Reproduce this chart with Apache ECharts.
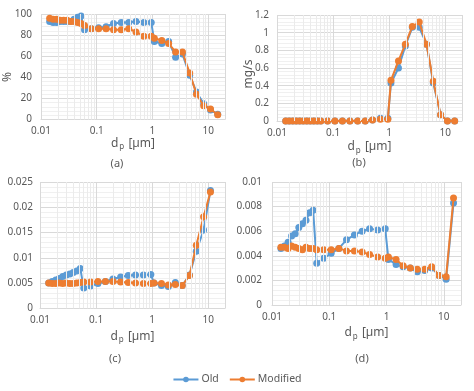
<!DOCTYPE html>
<html>
<head>
<meta charset="utf-8">
<script src="https://cdn.jsdelivr.net/npm/echarts@6/dist/echarts.min.js"></script>
<style>html,body{margin:0;padding:0;background:#fff}#c{width:474px;height:391px}</style>
</head>
<body>
<div id="c"></div>
<script>
// particle diameters (µm)
const dp = [0.0143, 0.0165, 0.0191, 0.022, 0.0254, 0.0294, 0.034, 0.0392, 0.0453, 0.0523, 0.0604,
  0.08, 0.108, 0.147, 0.2, 0.275, 0.375, 0.506, 0.7, 0.95,
  1.08, 1.47, 1.95, 2.6, 3.45, 4.65, 6.15, 8.3, 11, 14.8];

// (a) %
const aOld = [93, 92, 92, 93, 93, 93, 93, 95, 97, 98, 85, 86, 87, 88, 91, 92, 92, 93, 92, 92, 74, 72, 74, 59, 62, 42, 26, 15, 9, 5];
const aMod = [96, 95, 95, 94, 94, 94, 93, 93, 92, 91, 89, 86, 86, 86, 85, 85, 86, 83, 79, 79, 77, 75, 72, 64, 64, 44, 24, 13, 10, 4.5];
// (b) mg/s
const bOld = [0, 0, 0, 0, 0, 0, 0, 0, 0, 0, 0, 0, 0, 0, 0, 0, 0, 0.01, 0.03, 0.03, 0.43, 0.6, 0.85, 1.06, 1.06, 0.87, 0.43, 0.07, 0, 0];
const bMod = [0, 0, 0, 0, 0, 0, 0, 0, 0, 0, 0, 0, 0, 0, 0, 0, 0, 0.01, 0.02, 0.02, 0.46, 0.68, 0.87, 1.07, 1.12, 0.87, 0.45, 0.07, 0, 0];
// (c)
const cOld = [0.0050, 0.0053, 0.0056, 0.0059, 0.0063, 0.0066, 0.0068, 0.0071, 0.0074, 0.0079, 0.0040, 0.0044, 0.0049, 0.0053, 0.0058, 0.0062, 0.0065, 0.0066, 0.0066, 0.0067, 0.0050, 0.0045, 0.0043, 0.0051, 0.0045, 0.0066, 0.0113, 0.0155, 0.0233, null];
const cMod = [0.0050, 0.0049, 0.0049, 0.0050, 0.0049, 0.0050, 0.0049, 0.0049, 0.0050, 0.0051, 0.0052, 0.0052, 0.0053, 0.0053, 0.0053, 0.0052, 0.0051, 0.0050, 0.0049, 0.0049, 0.0050, 0.0049, 0.0046, 0.0047, 0.0045, 0.0065, 0.0125, 0.0181, 0.0230, null];
// (d)
const dOld = [0.0046, 0.0048, 0.0051, 0.0056, 0.0058, 0.0063, 0.0066, 0.0069, 0.0075, 0.0077, 0.0034, 0.0038, 0.0042, 0.0046, 0.0053, 0.0057, 0.0060, 0.0062, 0.0061, 0.0062, 0.0037, 0.0033, 0.0031, 0.0030, 0.0027, 0.0028, 0.0030, 0.0024, 0.0021, 0.0083];
const dMod = [0.0047, 0.0047, 0.0046, 0.0048, 0.0047, 0.0046, 0.0045, 0.0047, 0.0046, 0.0046, 0.0045, 0.0045, 0.0045, 0.0046, 0.0044, 0.0044, 0.0043, 0.0041, 0.0039, 0.0038, 0.0039, 0.0037, 0.0032, 0.0030, 0.0029, 0.0029, 0.0031, 0.0024, 0.0023, 0.0087];

const yMax = [100, 1.2, 0.025, 0.01];
const yStep = [20, 0.2, 0.005, 0.002];
const panelLabels = ['(a)', '(b)', '(c)', '(d)'];

const BLUE = '#5B9BD5', ORANGE = '#ED7D31', TXT = '#595959';
const FONT = 'Noto Sans';

const minorX = [];
[0.01, 0.1, 1, 10].forEach(d => { for (let k = 2; k <= 9; k++) { const v = +(k * d).toPrecision(3); if (v < 20) minorX.push(v); } });

const grids = [
  {left: 41, top: 14, width: 184, height: 105.5},
  {left: 277, top: 15, width: 185, height: 106},
  {left: 40, top: 182, width: 185, height: 126.3},
  {left: 272, top: 182, width: 189, height: 123}
];
const nameGaps = [15, 18, 20, 20];
const labelMargins = [9, 8, 7, 10];

const xAxes = grids.map((g, i) => ({
  type: 'log', logBase: 10, gridIndex: i, min: 0.01, max: 20,
  axisLine: {show: true, lineStyle: {color: '#d9d9d9'}},
  axisTick: {show: false},
  axisLabel: {color: TXT, fontFamily: FONT, fontSize: 10, margin: 7, showMaxLabel: false,
    formatter: v => { const l = Math.log10(v); return Math.abs(l - Math.round(l)) < 1e-6 ? String(+v.toPrecision(3)) : ''; }},
  splitLine: {show: true, lineStyle: {color: '#d9d9d9', width: 1}},
  name: '{a|d}{p|p}{a| [µm]}', nameLocation: 'middle', nameGap: nameGaps[i],
  nameTextStyle: {color: TXT, fontFamily: FONT,
    rich: {a: {fontSize: 12, color: TXT, fontFamily: FONT, lineHeight: 16},
           p: {fontSize: 8, color: TXT, fontFamily: FONT, padding: [7, 1, 0, 1]}}}
}));
const yAxes = grids.map((g, i) => ({
  type: 'value', gridIndex: i, min: 0, max: yMax[i], interval: yStep[i],
  axisLine: {show: false}, axisTick: {show: false},
  axisLabel: {color: TXT, fontFamily: FONT, fontSize: 10, margin: labelMargins[i]},
  splitLine: {show: true, lineStyle: {color: '#d9d9d9', width: 1}},
  minorTick: {show: false, splitNumber: 5},
  minorSplitLine: {show: true, lineStyle: {color: '#f0f0f0', width: 1}}
}));

const seriesData = [[aOld, aMod], [bOld, bMod], [cOld, cMod], [dOld, dMod]];
const series = [];
seriesData.forEach((pair, i) => {
  series.push({
    type: 'line', xAxisIndex: i, yAxisIndex: i, data: [], z: 1, silent: true,
    markLine: {silent: true, symbol: 'none', animation: false, label: {show: false},
      lineStyle: {color: '#ebebeb', type: 'solid', width: 1},
      data: minorX.map(v => ({xAxis: v}))}
  });
  ['Old', 'Modified'].forEach((nm, j) => {
    series.push({
      name: nm, type: 'line', xAxisIndex: i, yAxisIndex: i, z: 3 + j,
      data: dp.map((x, k) => pair[j][k] == null ? null : [x, pair[j][k]]),
      connectNulls: false,
      symbol: 'circle', symbolSize: 7, showAllSymbol: true,
      itemStyle: {color: j ? ORANGE : BLUE},
      lineStyle: {color: j ? ORANGE : BLUE, width: 2}
    });
  });
});

const labelPos = [[117, 164], [359, 163], [115, 359], [362, 359]];
const graphics = labelPos.map((p, i) => ({
  type: 'text', x: p[0], y: p[1],
  style: {text: panelLabels[i], fill: TXT, font: '11px "' + FONT + '"', textAlign: 'center', textVerticalAlign: 'middle'}
}));
graphics.push({type: 'text', x: 8, y: 77, rotation: Math.PI / 2,
  style: {text: '%', fill: TXT, font: '12px "' + FONT + '"', textAlign: 'center', textVerticalAlign: 'middle'}});
graphics.push({type: 'text', x: 249, y: 74, rotation: Math.PI / 2,
  style: {text: 'mg/s', fill: TXT, font: '12px "' + FONT + '"', textAlign: 'center', textVerticalAlign: 'middle'}});

const chart = echarts.init(document.getElementById('c'), null, {renderer: 'canvas'});
chart.setOption({
  animation: false,
  backgroundColor: '#fff',
  grid: grids,
  xAxis: xAxes,
  yAxis: yAxes,
  legend: {data: ['Old', 'Modified'], top: 369, left: 'center', itemWidth: 25, itemHeight: 7, itemGap: 10,
    textStyle: {color: TXT, fontFamily: FONT, fontSize: 10.5, padding: [0, 0, 0, -2]}},
  graphic: graphics,
  series: series
});
</script>
</body>
</html>
